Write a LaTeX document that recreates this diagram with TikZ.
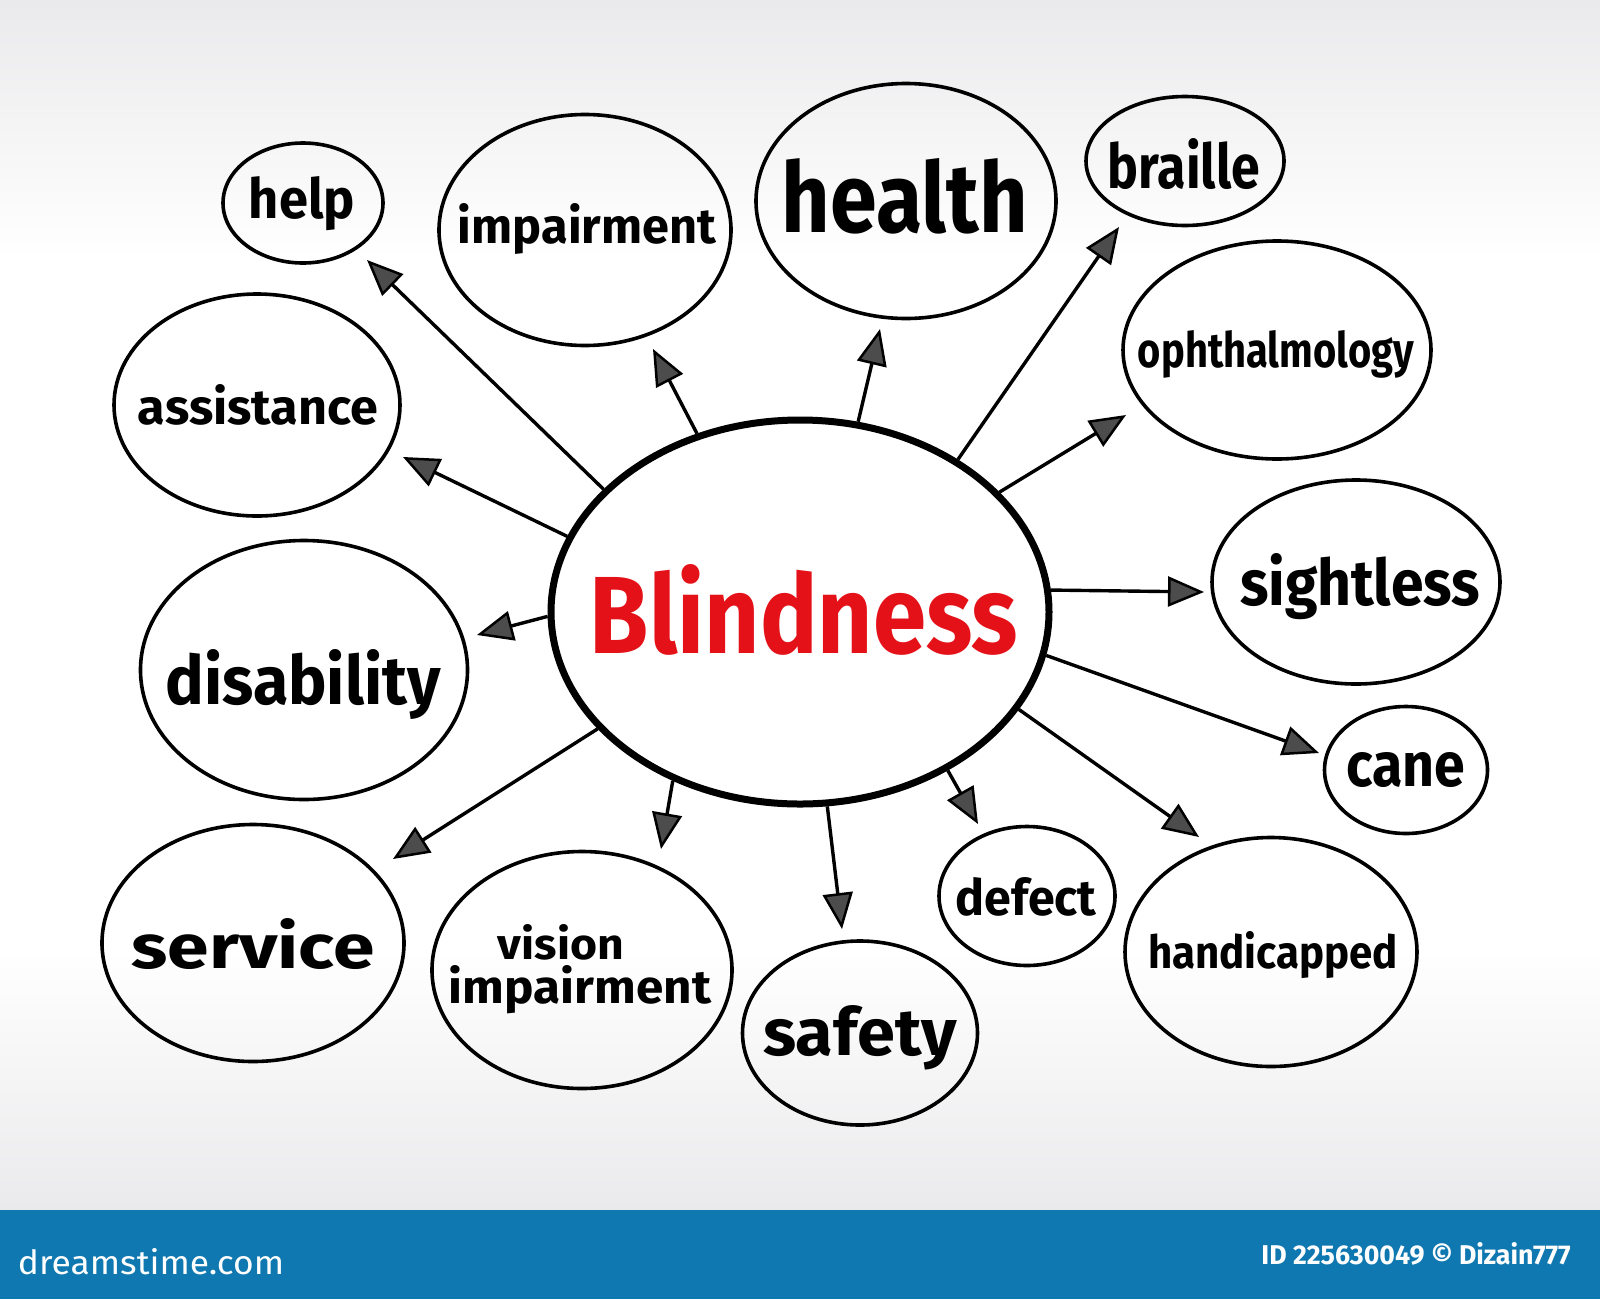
\documentclass[tikz,border=0pt]{standalone}
\usepackage{fontspec}
\setmainfont{Fira Sans}
\usetikzlibrary{arrows.meta,shapes.geometric}
\definecolor{bannerblue}{RGB}{16,120,176}
\definecolor{mmred}{RGB}{228,18,24}
\definecolor{bgedge}{RGB}{234,234,236}
\newcommand{\mmfit}[3]{\resizebox{#1}{#2}{#3}}
\begin{document}
\begin{tikzpicture}[x=1pt,y=-1pt,
  bub/.style={ellipse, draw=black, line width=3.6pt, inner sep=0pt},
  lbl/.style={font=\bfseries, text=black, inner sep=0pt, anchor=base},
  arr/.style={line width=3.4pt, -{Triangle[length=36pt,width=30pt,line width=2.5pt,fill=black!70]}},
]
\useasboundingbox (0,0) rectangle (1600,1299);
\fill[white] (0,0) rectangle (1600,1210);
\shade[top color=bgedge, bottom color=white] (0,0) rectangle (1600,260);
\shade[top color=white, bottom color=bgedge] (0,950) rectangle (1600,1210);
\fill[bannerblue] (0,1210) rectangle (1600,1299);

% central ellipse
\node[bub, line width=7pt, minimum width=498pt, minimum height=384pt] (c) at (800,612) {};
\node[lbl, text=mmred] (ct) at (804,653) {\mmfit{428pt}{89pt}{Blindness}};

% satellite ellipses
\node[bub, minimum width=160pt, minimum height=120pt] (help) at (303,203) {};
\node[bub, minimum width=292pt, minimum height=231pt] (imp) at (585,230) {};
\node[bub, minimum width=300pt, minimum height=235pt] (health) at (906,201) {};
\node[bub, minimum width=198pt, minimum height=129pt] (braille) at (1185,161) {};
\node[bub, minimum width=308pt, minimum height=218pt] (oph) at (1277,350) {};
\node[bub, minimum width=288pt, minimum height=204pt] (sight) at (1356,582) {};
\node[bub, minimum width=163pt, minimum height=127pt] (cane) at (1406,770) {};
\node[bub, minimum width=292pt, minimum height=229pt] (hand) at (1271,952) {};
\node[bub, minimum width=176pt, minimum height=139pt] (defect) at (1027,896) {};
\node[bub, minimum width=235pt, minimum height=184pt] (safety) at (860,1033) {};
\node[bub, minimum width=300pt, minimum height=237pt] (vision) at (582,970) {};
\node[bub, minimum width=302pt, minimum height=237pt] (service) at (253,943) {};
\node[bub, minimum width=327pt, minimum height=259pt] (dis) at (304,670) {};
\node[bub, minimum width=286pt, minimum height=222pt] (assist) at (257,405) {};

% labels
\node[lbl] (help-t) at (302,218) {\mmfit{106pt}{42pt}{help}};
\node[lbl] (imp-t) at (587,243) {\mmfit{258pt}{40pt}{impairment}};
\node[lbl] (health-t) at (905,232) {\mmfit{246pt}{74pt}{health}};
\node[lbl] (braille-t) at (1184,188) {\mmfit{152pt}{50pt}{braille}};
\node[lbl] (oph-t) at (1276,367) {\mmfit{276pt}{37pt}{ophthalmology}};
\node[lbl] (sight-t) at (1360,605) {\mmfit{240pt}{52pt}{sightless}};
\node[lbl] (cane-t) at (1406,786) {\mmfit{119pt}{34pt}{cane}};
\node[lbl] (hand-t) at (1273,968) {\mmfit{250pt}{37pt}{handicapped}};
\node[lbl] (defect-t) at (1026,915) {\mmfit{141pt}{38pt}{defect}};
\node[lbl] (safety-t) at (860,1055) {\mmfit{193pt}{50pt}{safety}};
\node[lbl] (vision-t1) at (561,959) {\mmfit{126pt}{35pt}{vision}};
\node[lbl] (vision-t2) at (580,1003) {\mmfit{262pt}{38pt}{impairment}};
\node[lbl] (service-t) at (253,968) {\mmfit{243pt}{50pt}{service}};
\node[lbl] (dis-t) at (303,704) {\mmfit{275pt}{55pt}{disability}};
\node[lbl] (assist-t) at (258,424) {\mmfit{240pt}{40pt}{assistance}};

% arrow tips
\coordinate (a-help) at (367,260);
\coordinate (a-imp) at (653,349);
\coordinate (a-health) at (880,329);
\coordinate (a-braille) at (1119,227);
\coordinate (a-oph) at (1126,415);
\coordinate (a-sight) at (1204,592);
\coordinate (a-cane) at (1319,753);
\coordinate (a-hand) at (1199,837);
\coordinate (a-defect) at (978,824);
\coordinate (a-safety) at (842,929);
\coordinate (a-vision) at (661,849);
\coordinate (a-service) at (393,859);
\coordinate (a-dis) at (477,635);
\coordinate (a-assist) at (403,457);

\draw[arr] (c.148) -- (a-help);
\draw[arr] (c.120) -- (a-imp);
\draw[arr] (c.73.5) -- (a-health);
\draw[arr] (c.44) -- (a-braille);
\draw[arr] (c.31.6) -- (a-oph);
\draw[arr] (c.5) -- (a-sight);
\draw[arr] (c.-10.8) -- (a-cane);
\draw[arr] (c.-24) -- (a-hand);
\draw[arr] (c.-47) -- (a-defect);
\draw[arr] (c.-82) -- (a-safety);
\draw[arr] (c.233.6) -- (a-vision);
\draw[arr] (c.210) -- (a-service);
\draw[arr] (c.181) -- (a-dis);
\draw[arr] (c.162) -- (a-assist);

% banner
\node[text=white, inner sep=0pt] (brand) at (151,1262) {\mmfit{266pt}{26pt}{dreamstime.com}};
\node[text=white, inner sep=0pt, font=\bfseries] (credit) at (1416,1254) {\mmfit{309pt}{22pt}{ID 225630049 © Dizain777}};
\end{tikzpicture}
\end{document}
